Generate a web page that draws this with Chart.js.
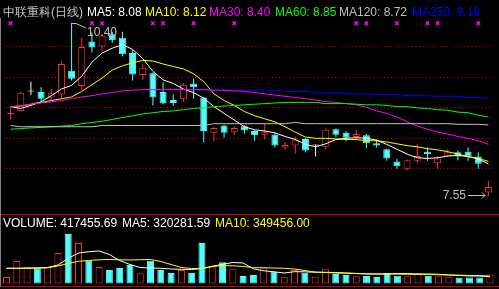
<!DOCTYPE html>
<html>
<head>
<meta charset="utf-8">
<script src="https://cdn.jsdelivr.net/npm/chart.js@4.4.0/dist/chart.umd.min.js"></script>
<style>
  html, body { margin: 0; padding: 0; background: #000; overflow: hidden; }
  #wrap { position: relative; width: 499px; height: 289px; }
  canvas { position: absolute; left: 0; }
  #kline { top: 0; }
  #vol { top: 214px; }
</style>
</head>
<body>
<div id="wrap">
  <canvas id="kline" width="499" height="214"></canvas>
  <canvas id="vol" width="499" height="75"></canvas>
</div>
<script>
const days = ['1','2','3','4','5','6','7','8','9','10','11','12','13','14','15','16','17','18','19','20','21','22','23','24',
              '25','26','27','28','29','30','31','32','33','34','35','36','37','38','39','40','41','42','43','44','45','46','47','48'];

const opens  = [8.90, 8.95, 9.27, 9.26, 9.17, 9.22, 9.61, 9.36, 10.09, 10.01, 10.21, 10.15, 9.90, 9.54, 9.57, 9.26, 9.13, 9.14, 9.40, 9.17, 8.59, 8.71, 8.60, 8.70,
                8.62, 8.56, 8.56, 8.35, 8.38, 8.49, 8.38, 8.36, 8.65, 8.59, 8.52, 8.55, 8.42, 8.32, 8.12, 8.00, 8.13, 8.28, 8.09, 8.20, 8.27, 8.28, 8.20, 7.61];
const closes = [8.91, 9.25, 9.27, 9.15, 9.25, 9.72, 9.48, 10.00, 9.99, 10.19, 10.11, 9.88, 9.55, 9.65, 9.17, 9.07, 9.08, 9.38, 9.34, 8.62, 8.67, 8.59, 8.67, 8.63,
                8.55, 8.60, 8.38, 8.39, 8.48, 8.30, 8.38, 8.64, 8.56, 8.51, 8.57, 8.42, 8.38, 8.17, 8.04, 8.14, 8.21, 8.24, 8.17, 8.27, 8.20, 8.20, 8.08, 7.70];
const highs  = [9.00, 9.26, 9.43, 9.34, 9.31, 9.77, 10.40, 10.15, 10.24, 10.21, 10.25, 10.25, 9.95, 9.72, 9.58, 9.42, 9.22, 9.41, 9.48, 9.18, 8.68, 8.72, 8.70, 8.71,
                8.63, 8.75, 8.59, 8.44, 8.53, 8.50, 8.40, 8.66, 8.66, 8.62, 8.64, 8.57, 8.48, 8.33, 8.16, 8.15, 8.41, 8.35, 8.21, 8.32, 8.30, 8.35, 8.27, 7.80];
const lows   = [8.81, 8.94, 9.21, 9.10, 9.11, 9.16, 9.45, 9.29, 9.91, 9.93, 10.07, 9.85, 9.45, 9.46, 9.04, 9.06, 9.03, 9.10, 9.15, 8.43, 8.45, 8.51, 8.55, 8.58,
                8.46, 8.48, 8.35, 8.31, 8.25, 8.27, 8.20, 8.32, 8.52, 8.45, 8.48, 8.34, 8.35, 8.13, 8.00, 7.97, 8.09, 8.13, 8.00, 8.19, 8.14, 8.13, 8.00, 7.55];

const ma5   = [9.02, 8.99, 9.04, 9.10, 9.20, 9.31, 9.37, 9.52, 9.75, 9.90, 9.98, 10.04, 9.96, 9.81, 9.60, 9.46, 9.40, 9.31, 9.25, 9.16, 9.02, 8.91, 8.80, 8.69,
               8.64, 8.62, 8.59, 8.53, 8.48, 8.40, 8.36, 8.41, 8.48, 8.50, 8.51, 8.50, 8.47, 8.40, 8.32, 8.24, 8.18, 8.17, 8.18, 8.21, 8.22, 8.20, 8.16, 8.08];
const ma10  = [9.02, 9.03, 9.06, 9.09, 9.12, 9.15, 9.18, 9.27, 9.38, 9.49, 9.62, 9.69, 9.74, 9.78, 9.77, 9.72, 9.68, 9.64, 9.56, 9.43, 9.23, 9.12, 9.04, 8.94,
               8.87, 8.82, 8.77, 8.69, 8.60, 8.52, 8.50, 8.50, 8.49, 8.48, 8.48, 8.46, 8.46, 8.44, 8.41, 8.38, 8.36, 8.33, 8.31, 8.28, 8.24, 8.20, 8.17, 8.12];
const ma30  = [9.02, 9.03, 9.06, 9.08, 9.10, 9.12, 9.15, 9.18, 9.20, 9.23, 9.25, 9.28, 9.29, 9.30, 9.30, 9.30, 9.30, 9.30, 9.30, 9.30, 9.29, 9.29, 9.28, 9.27,
               9.25, 9.23, 9.21, 9.19, 9.17, 9.15, 9.13, 9.10, 9.09, 9.07, 9.05, 9.01, 8.95, 8.91, 8.85, 8.77, 8.70, 8.65, 8.60, 8.57, 8.53, 8.50, 8.46, 8.40];
const ma60  = [8.65, 8.66, 8.67, 8.68, 8.69, 8.70, 8.71, 8.74, 8.76, 8.78, 8.81, 8.84, 8.87, 8.90, 8.92, 8.94, 8.95, 8.97, 8.99, 9.00, 9.02, 9.03, 9.04, 9.05,
               9.06, 9.07, 9.08, 9.09, 9.09, 9.09, 9.09, 9.07, 9.07, 9.07, 9.06, 9.05, 9.05, 9.04, 9.02, 9.02, 9.00, 8.99, 8.97, 8.96, 8.93, 8.92, 8.88, 8.85];
const ma120 = [8.71, 8.69, 8.69, 8.69, 8.69, 8.69, 8.69, 8.69, 8.69, 8.71, 8.71, 8.71, 8.71, 8.71, 8.71, 8.71, 8.71, 8.71, 8.71, 8.71, 8.74, 8.74, 8.74, 8.74,
               8.74, 8.74, 8.74, 8.74, 8.76, 8.74, 8.74, 8.74, 8.74, 8.74, 8.74, 8.74, 8.74, 8.74, 8.74, 8.74, 8.74, 8.74, 8.74, 8.74, 8.73, 8.73, 8.73, 8.72];
const ma250 = [null, null, null, null, null, null, null, null, null, null, null, null, null, null, null, null, null, null, null, 9.29, 9.29, 9.29, 9.29, 9.29,
               9.29, 9.29, 9.29, 9.27, 9.27, 9.27, 9.25, 9.25, 9.25, 9.23, 9.23, 9.23, 9.22, 9.22, 9.22, 9.20, 9.20, 9.20, 9.19, 9.19, 9.19, 9.17, 9.17, 9.16];

// magenta info marks along the top row
const marks = [1, 0, 0, 0, 0, 0, 0, 0, 1, 1, 0, 0, 0, 0, 1, 1, 0, 0, 1, 0, 0, 0, 1, 0,
               0, 0, 0, 0, 0, 0, 0, 0, 0, 0, 1, 1, 0, 0, 1, 0, 0, 1, 1, 0, 0, 0, 1, 0];

const volumes = [311000, 1022000, 742000, 698000, 742000, 1378000, 2222000, 1822000, 1036000, 756000, 622000, 711000, 844000, 476000, 1036000, 622000,
                 489000, 622000, 489000, 1822000, 742000, 964000, 653000, 356000, 400000, 698000, 548000, 296000, 622000, 504000, 326000, 653000,
                 444000, 400000, 341000, 356000, 311000, 489000, 370000, 341000, 474000, 356000, 341000, 320000, 280000, 290000, 294000, 417455.69];
const volMa5  = [698000, 698000, 711000, 720000, 733000, 844000, 1142000, 1378000, 1436000, 1467000, 1311000, 1044000, 867000, 733000, 711000, 698000,
                 667000, 653000, 644000, 689000, 787000, 876000, 956000, 933000, 676000, 587000, 542000, 489000, 547000, 542000, 520000, 520000,
                 511000, 489000, 462000, 444000, 444000, 444000, 467000, 462000, 444000, 444000, 431000, 400000, 378000, 356000, 356000, 320281.59];
const volMa10 = [698000, 698000, 698000, 698000, 720000, 800000, 911000, 1009000, 1044000, 1076000, 1089000, 1076000, 1067000, 1080000, 1089000, 1000000,
                 867000, 733000, 689000, 689000, 778000, 822000, 809000, 778000, 724000, 724000, 711000, 698000, 667000, 600000, 533000, 511000,
                 489000, 480000, 471000, 458000, 444000, 444000, 440000, 431000, 431000, 422000, 413000, 400000, 391000, 382000, 373000, 349456.00];

const stockName = '中联重科(日线)';

const RED = '#ff3232', CYAN = '#54fcfc', FLAT = '#ffffff';
const GRID = '#d00000', LABEL = '#c0c0c0';
const FONT = '12px "Liberation Sans", Arial, sans-serif';

Chart.defaults.font.family = '"Liberation Sans", Arial, sans-serif';

const candleColor = opens.map((o, i) => closes[i] > o ? RED : (closes[i] < o ? CYAN : FLAT));
const last = a => a[a.length - 1];

function hiddenY(min, max, step, from, to) {
  return {
    min: min, max: max,
    afterFit: s => { s.width = 0; },
    ticks: { display: false, stepSize: step },
    border: { display: false, dash: [1, 2.5] },
    grid: {
      drawTicks: false,
      color: c => {
        const v = c.tick.value / step;
        const onStep = Math.abs(v - Math.round(v)) < 1e-6;
        return (onStep && c.tick.value >= from && c.tick.value <= to) ? GRID : 'rgba(0,0,0,0)';
      }
    }
  };
}

const klineText = {
  id: 'klineText',
  afterDraw(chart) {
    const ctx = chart.ctx;
    const xs = chart.scales.x, ys = chart.scales.y;
    ctx.save();
    ctx.font = FONT;
    ctx.textBaseline = 'alphabetic';
    const heads = [
      [stockName, 3, '#c8c8c8'],
      ['MA5: ' + last(ma5).toFixed(2), 87, '#ffffff'],
      ['MA10: ' + last(ma10).toFixed(2), 145, '#ffff00'],
      ['MA30: ' + last(ma30).toFixed(2), 209, '#ff00ff'],
      ['MA60: ' + last(ma60).toFixed(2), 275, '#00ff00'],
      ['MA120: ' + last(ma120).toFixed(2), 339, '#c0c0c0'],
      ['MA250: ' + last(ma250).toFixed(2), 412, '#0000ff']
    ];
    heads.forEach(h => { ctx.fillStyle = h[2]; ctx.fillText(h[0], h[1], 16); });

    // left frame line
    ctx.fillStyle = '#808080';
    ctx.fillRect(0, 18, 1, 196);

    // highest price
    const top = Math.max(...highs), pi = highs.indexOf(top);
    const hx = Math.round(xs.getPixelForValue(pi)), hy = Math.round(ys.getPixelForValue(top));
    ctx.strokeStyle = LABEL;
    ctx.lineWidth = 1;
    ctx.beginPath();
    ctx.moveTo(hx, hy + 0.5);
    ctx.lineTo(hx + 4, hy + 0.5);
    ctx.lineTo(hx + 14, hy + 5);
    ctx.stroke();
    ctx.fillStyle = LABEL;
    ctx.textAlign = 'left';
    ctx.fillText(top.toFixed(2), hx + 15, hy + 13);

    // lowest price
    const bottom = Math.min(...lows), li = lows.indexOf(bottom);
    const lx = Math.round(xs.getPixelForValue(li)), ly = Math.round(ys.getPixelForValue(bottom));
    ctx.beginPath();
    ctx.moveTo(lx - 20, ly - 0.5);
    ctx.lineTo(lx - 3, ly - 0.5);
    ctx.moveTo(lx - 6, ly - 3.5);
    ctx.lineTo(lx - 3, ly - 0.5);
    ctx.lineTo(lx - 6, ly + 2.5);
    ctx.stroke();
    ctx.textAlign = 'right';
    ctx.fillText(bottom.toFixed(2), lx - 22, ly + 3);
    ctx.restore();
  }
};

const volText = {
  id: 'volText',
  afterDraw(chart) {
    const ctx = chart.ctx;
    ctx.save();
    ctx.fillStyle = '#c80000';
    ctx.fillRect(0, 0, 499, 1);
    ctx.fillRect(0, 72, 499, 1);
    ctx.fillStyle = '#808080';
    ctx.fillRect(0, 0, 1, 73);
    ctx.font = FONT;
    ctx.textBaseline = 'alphabetic';
    const heads = [
      ['VOLUME: ' + last(volumes).toFixed(2), 3, '#ffffff'],
      ['MA5: ' + last(volMa5).toFixed(2), 122, '#ffffff'],
      ['MA10: ' + last(volMa10).toFixed(2), 215, '#ffff00']
    ];
    heads.forEach(h => { ctx.fillStyle = h[2]; ctx.fillText(h[0], h[1], 13); });
    ctx.restore();
  }
};

function maLine(data, color) {
  return { type: 'line', data: data, borderColor: color, borderWidth: 1, pointRadius: 0, tension: 0, fill: false, order: 0 };
}

const pad = { left: 1.36, right: 3.84 };

new Chart(document.getElementById('kline'), {
  data: {
    labels: days,
    datasets: [
      maLine(ma120, '#c0c0c0'),
      maLine(ma60, '#00ff00'),
      maLine(ma30, '#ff00ff'),
      maLine(ma250, '#0000ff'),
      maLine(ma10, '#ffff00'),
      maLine(ma5, '#ffffff'),
      {
        type: 'line',
        data: marks.map(m => m ? 10.39 : null),
        showLine: false,
        pointStyle: 'crossRot',
        pointRadius: 2.5,
        pointBorderColor: '#ff00ff',
        pointBorderWidth: 1.5,
        order: 0
      },
      {
        type: 'bar',
        data: opens.map((o, i) => [o, closes[i]]),
        grouped: false,
        barThickness: 7,
        minBarLength: 1,
        borderWidth: 1,
        borderSkipped: false,
        inflateAmount: 0,
        borderColor: candleColor,
        backgroundColor: candleColor.map(c => c === RED ? '#000000' : c),
        order: 1
      },
      {
        type: 'bar',
        data: lows.map((l, i) => [l, highs[i]]),
        grouped: false,
        barThickness: 1,
        borderWidth: 0,
        inflateAmount: 0,
        backgroundColor: candleColor,
        order: 2
      }
    ]
  },
  options: {
    responsive: false,
    animation: false,
    events: [],
    layout: { padding: { left: pad.left, right: pad.right, top: 20, bottom: 2 } },
    plugins: { legend: { display: false }, tooltip: { enabled: false } },
    scales: {
      x: { type: 'category', display: false, offset: true },
      y: hiddenY(7.3468, 10.4435, 0.5, 8, 10)
    }
  },
  plugins: [klineText]
});

const volUp = opens.map((o, i) => closes[i] >= o);

new Chart(document.getElementById('vol'), {
  data: {
    labels: days,
    datasets: [
      maLine(volMa10, '#ffff00'),
      maLine(volMa5, '#ffffff'),
      {
        type: 'bar',
        data: volumes,
        barThickness: 7,
        borderWidth: 1,
        borderSkipped: false,
        inflateAmount: 0,
        borderColor: volUp.map(u => u ? RED : CYAN),
        backgroundColor: volUp.map(u => u ? '#000000' : CYAN),
        order: 1
      }
    ]
  },
  options: {
    responsive: false,
    animation: false,
    events: [],
    layout: { padding: { left: pad.left, right: pad.right, top: 14, bottom: 5 } },
    plugins: { legend: { display: false }, tooltip: { enabled: false } },
    scales: {
      x: { type: 'category', display: false, offset: true },
      y: hiddenY(0, 2488889, 1000000, 1000000, 2000000)
    }
  },
  plugins: [volText]
});
</script>
</body>
</html>
